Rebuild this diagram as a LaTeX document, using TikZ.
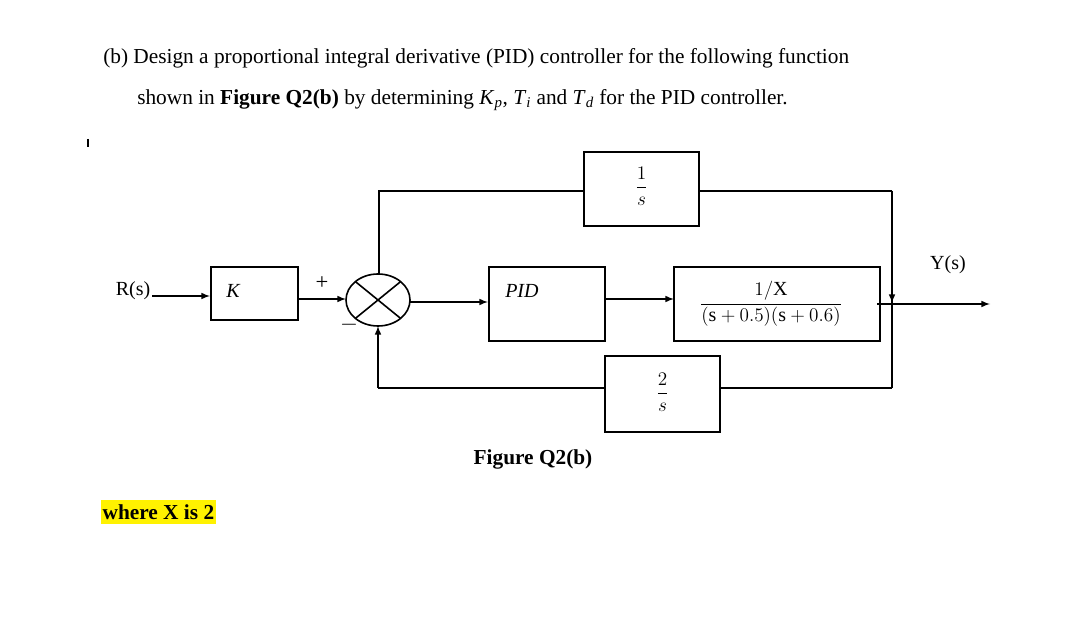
\documentclass[tikz,border=0pt]{standalone}
\usepackage{fontspec}
\usepackage{amsmath}
\usetikzlibrary{calc}
\setmainfont{Liberation Serif}
\begin{document}
\begin{tikzpicture}[x=0.75pt,y=-0.75pt,
  blk/.style={draw,line width=1.2pt,minimum width=#1,inner sep=0pt},
  ln/.style={line width=1.2pt},
  arr/.style={line width=1.2pt,-latex},
  txt/.style={font=\fontsize{16}{19}\selectfont,inner sep=0pt}]
\useasboundingbox (0,0) rectangle (1070,630);
\node[txt,anchor=west] (l1) at (103,58) {(b) Design a proportional integral derivative (PID) controller for the following function};
\node[txt,anchor=west] (l2) at (137,100) {shown in \textbf{Figure Q2(b)} by determining \textit{K}\textsubscript{\textit{p}}, \textit{T}\textsubscript{\textit{i}} and \textit{T}\textsubscript{\textit{d}} for the PID controller.};
\draw[line width=0.8pt] (88,139) -- (88,147);
\node[blk=87pt*0.75,minimum height=53pt*0.75] (K) at (254.5,293.5) {};
\node[txt,font=\fontsize{15}{18}\selectfont\itshape,anchor=west] (Kt) at (226,291) {K};
\node[txt,font=\fontsize{15}{18}\selectfont] (R) at (133,291) {R(s)};
\coordinate (Rs) at (152,296);
\draw[arr] (Rs) -- (210,296);
\draw[ln,line width=1.2pt] (378,300) ellipse [x radius=32, y radius=26];
\coordinate (S) at (378,300);
\draw[ln] ($(S)+(-22.6,-18.4)$) -- ($(S)+(22.6,18.4)$);
\draw[ln] ($(S)+(-22.6,18.4)$) -- ($(S)+(22.6,-18.4)$);
\draw[arr] (298,299) -- (346,299);
\node[txt,font=\fontsize{17}{18}\selectfont] (plus) at (322,283) {+};
\node[txt,font=\fontsize{17}{18}\selectfont] (minus) at (349,325) {$-$};
\node[blk=116pt*0.75,minimum height=74pt*0.75] (PID) at (547,304) {};
\node[txt,font=\fontsize{15}{18}\selectfont\itshape,anchor=west] (Pt) at (505,291) {PID};
\draw[arr] (410,302) -- (488,302);
\node[blk=206pt*0.75,minimum height=74pt*0.75] (G) at (777,304) {};
\node[inner sep=0pt,font=\fontsize{15}{18}\selectfont] (Gt) at (771,304) {$\dfrac{\;1/\mathrm{X}\;}{(\mathrm{s}+0.5)(\mathrm{s}+0.6)}$};
\draw[arr] (605,299) -- (674,299);
\node[blk=115pt*0.75,minimum height=74pt*0.75] (I) at (641.5,189) {};
\node[inner sep=0pt,font=\fontsize{14}{18}\selectfont] (It) at (641.5,186) {$\dfrac{1}{s}$};
\node[blk=115pt*0.75,minimum height=76pt*0.75] (D) at (662.5,394) {};
\node[inner sep=0pt,font=\fontsize{14}{18}\selectfont] (Dt) at (662.5,392) {$\dfrac{2}{s}$};
\coordinate (tl) at (379,191); \coordinate (tr) at (892,191);
\coordinate (bl) at (378,388); \coordinate (br) at (892,388);
\draw[ln] (I.west |- tl) -- (tl) -- (379,274);
\draw[ln] (I.east |- tr) -- (tr);
\draw[ln] (tr) -- (br);
\draw[arr] (tr) -- (892,303);
\draw[ln] (D.east |- br) -- (br);
\draw[ln] (D.west |- bl) -- (bl);
\draw[arr] (bl) -- (378,326);
\coordinate (yo) at (877,304);
\draw[arr] (yo) -- (990,304);
\node[txt,font=\fontsize{15}{18}\selectfont] (Y) at (948,265) {Y(s)};
\node[txt,font=\fontsize{16}{19}\selectfont\bfseries] (fig) at (533,459) {Figure Q2(b)};
\node[txt,font=\fontsize{16}{19}\selectfont\bfseries,fill=yellow,anchor=west,inner ysep=3pt,inner xsep=1pt] (w) at (101,512) {where X is 2};
\end{tikzpicture}
\end{document}
